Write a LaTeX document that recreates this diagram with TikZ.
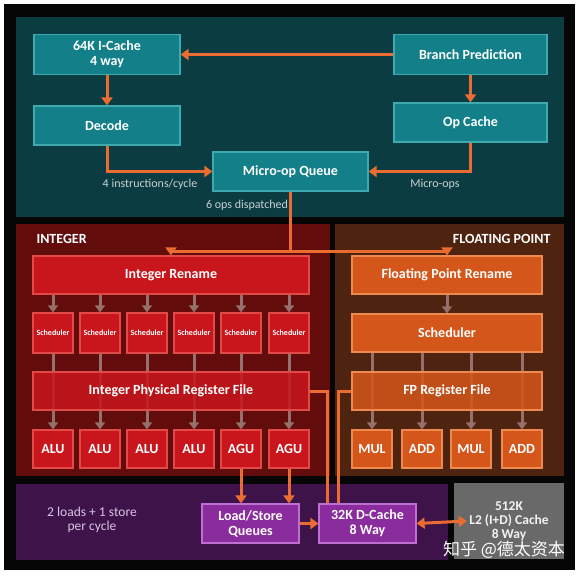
\documentclass[tikz,border=0pt]{standalone}
\usepackage{fontspec}
\setmainfont{Carlito}
\newfontfamily\cjkfont{Noto Sans CJK SC}
\usetikzlibrary{arrows.meta,calc}

\pgfdeclarelayer{panels}
\pgfdeclarelayer{wires}
\pgfsetlayers{panels,wires,main}

\definecolor{frameblack}{HTML}{060606}
\definecolor{tealbg}{HTML}{0B3C42}
\definecolor{tealfill}{HTML}{138089}
\definecolor{tealline}{HTML}{3FA9B0}
\definecolor{intbg}{HTML}{620C0C}
\definecolor{intfill}{HTML}{C8161C}
\definecolor{intline}{HTML}{E24A48}
\definecolor{fpbg}{HTML}{4E2410}
\definecolor{fpfill}{HTML}{D5561A}
\definecolor{fpline}{HTML}{EE8A50}
\definecolor{lsbg}{HTML}{3D134A}
\definecolor{lsfill}{HTML}{8A2C9E}
\definecolor{lsline}{HTML}{BE70D0}
\definecolor{ltwogray}{HTML}{696969}
\definecolor{wireorange}{HTML}{EA6C30}
\definecolor{wiregray}{HTML}{96706A}
\definecolor{notegray}{HTML}{C8D2D4}
\definecolor{notelilac}{HTML}{D8C4E4}

\begin{document}
\begin{tikzpicture}[>=Latex,x=1pt,y=-1pt]
	
	% ------------------------------------------------------------
	% Styles (one colour family per pipeline block)
	% ------------------------------------------------------------
	\tikzset{
		boxbase/.style={line width=1.2pt,text=white,align=center,inner sep=0pt,
			font=\bfseries\fontsize{14}{15}\selectfont},
		tealbox/.style={boxbase,draw=tealline,fill=tealfill},
		intbox/.style={boxbase,draw=intline,fill=intfill},
		schedbox/.style={intbox,font=\bfseries\fontsize{8}{9}\selectfont,
			minimum width=40,minimum height=40},
		unitbox/.style={intbox,minimum width=40,minimum height=38},
		fpbox/.style={boxbase,draw=fpline,fill=fpfill},
		fpunit/.style={fpbox,minimum width=40,minimum height=38},
		lsbox/.style={boxbase,draw=lsline,fill=lsfill,minimum width=97,minimum height=39},
		regfile/.style={fill opacity=0.85,text opacity=1},
		notetext/.style={text=notegray,font=\fontsize{12}{13}\selectfont},
		paneltitle/.style={text=white,font=\bfseries\fontsize{14}{15}\selectfont},
		orwire/.style={draw=wireorange,line width=3pt},
		orarrow/.style={orwire,-{Triangle[width=11pt,length=8pt]}},
		grarrow/.style={draw=wiregray,line width=3pt,-{Triangle[width=10pt,length=7pt]}}
	}
	
	\useasboundingbox (0,0) rectangle (580,575);
	
	% ============================================================
	% Panels (background layer)
	% ============================================================
	\begin{pgfonlayer}{panels}
		\fill[white] (0,0) rectangle (580,575);
		\fill[frameblack] (4,4) rectangle (575,570);
		\fill[tealbg] (16,17) rectangle (564,217);
		\fill[intbg] (16,224) rectangle (330,476);
		\fill[fpbg] (335,224) rectangle (564,476);
		\fill[lsbg] (16,484) rectangle (448,560);
	\end{pgfonlayer}
	
	% ============================================================
	% FRONT END: fetch, decode, op cache, micro-op queue
	% ============================================================
	\node[tealbox,minimum width=146,minimum height=40] (icache) at (107,54.5) {64K I-Cache\\4 way};
	\node[tealbox,minimum width=153,minimum height=40] (bpred) at (470.5,54.5) {Branch Prediction};
	\node[tealbox,minimum width=146,minimum height=39] (decode) at (107,125.5) {Decode};
	\node[tealbox,minimum width=153,minimum height=39] (opcache) at (470.5,122.5) {Op Cache};
	\node[tealbox,minimum width=155,minimum height=39] (uopq) at (290.5,171.5) {Micro-op Queue};
	
	% Labels on the front-end wires
	\node[notetext] (instlbl) at (150,184) {4 instructions/cycle};
	\node[notetext] (uoplbl) at (435,184) {Micro-ops};
	\node[notetext] (displbl) at (247,205) {6 ops dispatched};
	
	% ============================================================
	% INTEGER cluster
	% ============================================================
	\node[paneltitle,anchor=west] (inttitle) at (33,239) {INTEGER};
	\node[intbox,minimum width=276,minimum height=38] (irename) at (171,275) {Integer Rename};
	
	\node[schedbox] (isched1) at (53,333) {Scheduler};
	\node[schedbox] (isched2) at (100,333) {Scheduler};
	\node[schedbox] (isched3) at (147,333) {Scheduler};
	\node[schedbox] (isched4) at (194,333) {Scheduler};
	\node[schedbox] (isched5) at (241,333) {Scheduler};
	\node[schedbox] (isched6) at (289,333) {Scheduler};
	
	\node[intbox,regfile,minimum width=276,minimum height=38] (iprf) at (171,391) {Integer Physical Register File};
	
	\node[unitbox] (alu1) at (53,449) {ALU};
	\node[unitbox] (alu2) at (100,449) {ALU};
	\node[unitbox] (alu3) at (147,449) {ALU};
	\node[unitbox] (alu4) at (194,449) {ALU};
	\node[unitbox] (agu1) at (241,449) {AGU};
	\node[unitbox] (agu2) at (289,449) {AGU};
	
	% ============================================================
	% FLOATING POINT cluster
	% ============================================================
	\node[paneltitle,anchor=east] (fptitle) at (554,239) {FLOATING POINT};
	\node[fpbox,minimum width=190,minimum height=38] (fprename) at (447,275) {Floating Point Rename};
	\node[fpbox,minimum width=190,minimum height=38] (fpsched) at (447,333) {Scheduler};
	\node[fpbox,regfile,minimum width=190,minimum height=38] (fprf) at (447,391) {FP Register File};
	
	\node[fpunit] (mul1) at (372,449) {MUL};
	\node[fpunit] (add1) at (422,449) {ADD};
	\node[fpunit] (mul2) at (471,449) {MUL};
	\node[fpunit] (add2) at (522,449) {ADD};
	
	% ============================================================
	% LOAD/STORE + L2
	% ============================================================
	\node[text=notelilac,font=\fontsize{13.5}{14.5}\selectfont,align=center] (lsnote) at (92,520)
	{2 loads + 1 store\\per cycle};
	\node[lsbox] (lsq) at (250.5,523.5) {Load/Store\\Queues};
	\node[lsbox] (dcache) at (367.5,523.5) {32K D-Cache\\8 Way};
	\node[fill=ltwogray,text=white!90!gray,inner sep=0pt,minimum width=110,minimum height=76,
	align=center,font=\bfseries\fontsize{13.5}{14}\selectfont] (ltwo) at (509,521)
	{512K\\L2 (I+D) Cache\\8 Way};
	
	% ============================================================
	% Gray issue wires (under the register files)
	% ============================================================
	\begin{pgfonlayer}{wires}
		\draw[grarrow] (irename.south -| isched1) -- (isched1.north);
		\draw[grarrow] (irename.south -| isched2) -- (isched2.north);
		\draw[grarrow] (irename.south -| isched3) -- (isched3.north);
		\draw[grarrow] (irename.south -| isched4) -- (isched4.north);
		\draw[grarrow] (irename.south -| isched5) -- (isched5.north);
		\draw[grarrow] (irename.south -| isched6) -- (isched6.north);
		
		\draw[grarrow] (isched1.south) -- (alu1.north);
		\draw[grarrow] (isched2.south) -- (alu2.north);
		\draw[grarrow] (isched3.south) -- (alu3.north);
		\draw[grarrow] (isched4.south) -- (alu4.north);
		\draw[grarrow] (isched5.south) -- (agu1.north);
		\draw[grarrow] (isched6.south) -- (agu2.north);
		
		\draw[grarrow] (fprename.south) -- (fpsched.north);
		\draw[grarrow] (fpsched.south -| mul1) -- (mul1.north);
		\draw[grarrow] (fpsched.south -| add1) -- (add1.north);
		\draw[grarrow] (fpsched.south -| mul2) -- (mul2.north);
		\draw[grarrow] (fpsched.south -| add2) -- (add2.north);
	\end{pgfonlayer}
	
	% ============================================================
	% Orange data-flow wires
	% ============================================================
	\draw[orarrow] (bpred.west) -- (icache.east);
	\draw[orarrow] (icache.south) -- (decode.north);
	\draw[orarrow] (bpred.south) -- (opcache.north);
	\draw[orarrow] (decode.south) |- (uopq.west);
	\draw[orarrow] (opcache.south) |- (uopq.east);
	
	% dispatch split to the two clusters
	\coordinate (fork) at ($(uopq.south)+(0,60)$);
	\draw[orwire] (uopq.south) -- (fork);
	\draw[orarrow] (fork) -| (irename.north);
	\draw[orarrow] (fork) -| (fprename.north);
	
	% AGUs into the load/store queues
	\draw[orarrow] (agu1.south) -- (agu1.south |- lsq.north);
	\draw[orarrow] (agu2.south) -- (agu2.south |- lsq.north);
	
	% register files into the D-cache
	\draw[orwire] (iprf.east) -| ($(dcache.north west)+(9,0)$);
	\draw[orwire] (fprf.west) -| ($(dcache.north west)+(20,0)$);
	
	\draw[orarrow] (lsq.east) -- (dcache.west);
	\draw[orwire,{Triangle[width=11pt,length=8pt]}-{Triangle[width=11pt,length=8pt]}]
	(dcache.east) -- ($(ltwo.west)+(13,0)$);
	
	% watermark
	\node[text=white,font=\cjkfont\fontsize{17}{18}\selectfont] (mark) at (504,550) {知乎 @德太资本};
	
\end{tikzpicture}
\end{document}
